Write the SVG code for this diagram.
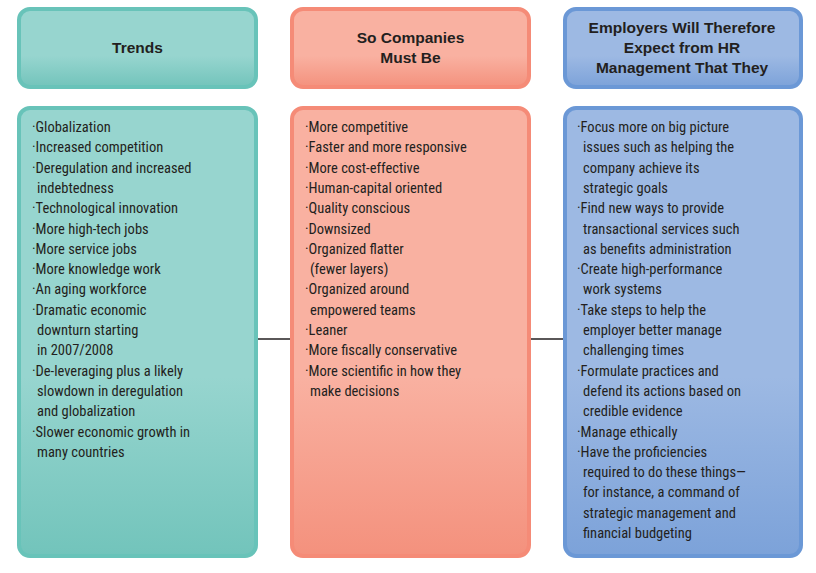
<svg xmlns="http://www.w3.org/2000/svg" width="816" height="573" viewBox="0 0 816 573">
<defs>
<linearGradient id="gT" x1="0" y1="0" x2="0" y2="1"><stop offset="0.6" stop-color="#97d5cf"/><stop offset="1" stop-color="#72c4bb"/></linearGradient>
<linearGradient id="gS" x1="0" y1="0" x2="0" y2="1"><stop offset="0.6" stop-color="#f9b1a1"/><stop offset="1" stop-color="#f4917d"/></linearGradient>
<linearGradient id="gB" x1="0" y1="0" x2="0" y2="1"><stop offset="0.6" stop-color="#9db9e3"/><stop offset="1" stop-color="#7ca2d9"/></linearGradient>
<style>
.t{stroke:#68c3b9;stroke-width:4}
.s{stroke:#f58b77;stroke-width:4}
.b{stroke:#6b98d6;stroke-width:4}
.h{font-family:"Liberation Sans",Arial,sans-serif;font-weight:bold;font-size:15.5px;fill:#231f20;text-anchor:middle}
.x{font-family:"Liberation Sans Narrow","Roboto Condensed","DejaVu Sans Condensed",sans-serif;font-size:14.5px;fill:#231f20}
.c{stroke:#231f20;stroke-width:1.5}
</style>
</defs>
<g id="connectors">
<line class="c" x1="257" y1="339" x2="291" y2="339"/>
<line class="c" x1="530" y1="339" x2="563" y2="339"/>
</g>
<g id="trends-header"><rect class="t" x="19" y="9" width="237" height="78" rx="11" fill="url(#gT)"/><text class="h" x="137.5" y="53">Trends</text></g>
<g id="companies-header"><rect class="s" x="292" y="9" width="237" height="78" rx="11" fill="url(#gS)"/><text class="h" x="410.5" y="43">So Companies</text><text class="h" x="410.5" y="63">Must Be</text></g>
<g id="hr-header"><rect class="b" x="565" y="9" width="236" height="78" rx="11" fill="url(#gB)"/><text class="h" x="682" y="33">Employers Will Therefore</text><text class="h" x="682" y="53">Expect from HR</text><text class="h" x="682" y="73">Management That They</text></g>
<g id="trends-body"><rect class="t" x="19" y="108" width="237" height="448" rx="11" fill="url(#gT)"/>
<text class="x">
<tspan x="32" y="132">·Globalization</tspan>
<tspan x="32" y="152.3">·Increased competition</tspan>
<tspan x="32" y="172.6">·Deregulation and increased</tspan>
<tspan x="37" y="192.9">indebtedness</tspan>
<tspan x="32" y="213.2">·Technological innovation</tspan>
<tspan x="32" y="233.5">·More high-tech jobs</tspan>
<tspan x="32" y="253.8">·More service jobs</tspan>
<tspan x="32" y="274.1">·More knowledge work</tspan>
<tspan x="32" y="294.4">·An aging workforce</tspan>
<tspan x="32" y="314.7">·Dramatic economic</tspan>
<tspan x="37" y="335">downturn starting</tspan>
<tspan x="37" y="355.3">in 2007/2008</tspan>
<tspan x="32" y="375.6">·De-leveraging plus a likely</tspan>
<tspan x="37" y="395.9">slowdown in deregulation</tspan>
<tspan x="37" y="416.2">and globalization</tspan>
<tspan x="32" y="436.5">·Slower economic growth in</tspan>
<tspan x="37" y="456.8">many countries</tspan>
</text></g>
<g id="companies-body"><rect class="s" x="292" y="108" width="237" height="448" rx="11" fill="url(#gS)"/>
<text class="x">
<tspan x="305" y="132">·More competitive</tspan>
<tspan x="305" y="152.3">·Faster and more responsive</tspan>
<tspan x="305" y="172.6">·More cost-effective</tspan>
<tspan x="305" y="192.9">·Human-capital oriented</tspan>
<tspan x="305" y="213.2">·Quality conscious</tspan>
<tspan x="305" y="233.5">·Downsized</tspan>
<tspan x="305" y="253.8">·Organized flatter</tspan>
<tspan x="310" y="274.1">(fewer layers)</tspan>
<tspan x="305" y="294.4">·Organized around</tspan>
<tspan x="310" y="314.7">empowered teams</tspan>
<tspan x="305" y="335">·Leaner</tspan>
<tspan x="305" y="355.3">·More fiscally conservative</tspan>
<tspan x="305" y="375.6">·More scientific in how they</tspan>
<tspan x="310" y="395.9">make decisions</tspan>
</text></g>
<g id="hr-body"><rect class="b" x="565" y="108" width="236" height="448" rx="11" fill="url(#gB)"/>
<text class="x">
<tspan x="577" y="132">·Focus more on big picture</tspan>
<tspan x="583" y="152.3">issues such as helping the</tspan>
<tspan x="583" y="172.6">company achieve its</tspan>
<tspan x="583" y="192.9">strategic goals</tspan>
<tspan x="577" y="213.2">·Find new ways to provide</tspan>
<tspan x="583" y="233.5">transactional services such</tspan>
<tspan x="583" y="253.8">as benefits administration</tspan>
<tspan x="577" y="274.1">·Create high-performance</tspan>
<tspan x="583" y="294.4">work systems</tspan>
<tspan x="577" y="314.7">·Take steps to help the</tspan>
<tspan x="583" y="335">employer better manage</tspan>
<tspan x="583" y="355.3">challenging times</tspan>
<tspan x="577" y="375.6">·Formulate practices and</tspan>
<tspan x="583" y="395.9">defend its actions based on</tspan>
<tspan x="583" y="416.2">credible evidence</tspan>
<tspan x="577" y="436.5">·Manage ethically</tspan>
<tspan x="577" y="456.8">·Have the proficiencies</tspan>
<tspan x="583" y="477.1">required to do these things—</tspan>
<tspan x="583" y="497.4">for instance, a command of</tspan>
<tspan x="583" y="517.7">strategic management and</tspan>
<tspan x="583" y="538">financial budgeting</tspan>
</text></g>
</svg>
